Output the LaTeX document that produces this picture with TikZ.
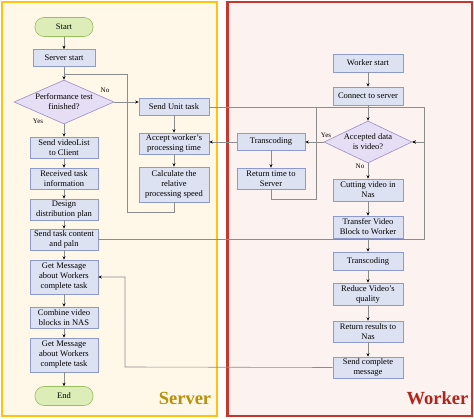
\documentclass[tikz,border=0pt]{standalone}
\usepackage{fontspec}
\setmainfont{Liberation Serif}
\usetikzlibrary{shapes.geometric,arrows.meta}
\definecolor{boxfill}{HTML}{DDE2F2}
\definecolor{boxdraw}{HTML}{8E9ACB}
\definecolor{diafill}{HTML}{E6DEF4}
\definecolor{diadraw}{HTML}{9C8CC8}
\definecolor{termfill}{HTML}{DCEDB8}
\definecolor{termdraw}{HTML}{98BF5E}
\definecolor{srvborder}{HTML}{FFC20E}
\definecolor{srvfill}{HTML}{FFF8E8}
\definecolor{wrkborder}{HTML}{C8372D}
\definecolor{wrkfill}{HTML}{FCF2F0}
\definecolor{srvtext}{HTML}{B8900A}
\definecolor{wrktext}{HTML}{B0241C}
\definecolor{linegray}{HTML}{8C8C8C}
\tikzset{
  box/.style={draw=boxdraw, fill=boxfill, line width=0.6pt, minimum width=68pt, minimum height=21pt,
    align=center, inner sep=1pt, font=\fontsize{8.5}{10}\selectfont},
  dia/.style={diamond, draw=diadraw, fill=diafill, line width=0.6pt, inner sep=0pt, aspect=2.3,
    align=center, font=\fontsize{8.5}{10}\selectfont},
  term/.style={draw=termdraw, fill=termfill, line width=0.6pt, rounded corners=9pt, minimum width=58pt,
    minimum height=19pt, font=\fontsize{8.5}{10}\selectfont},
  conn/.style={draw=linegray, line width=0.6pt},
  arr/.style={conn, -{Stealth[length=3.5pt,width=3pt,color=black]}},
  lbl/.style={font=\fontsize{7}{8}\selectfont, inner sep=0pt},
  panel/.style={line width=2.2pt},
  title/.style={font=\fontsize{18.5}{22}\selectfont\bfseries, inner sep=0pt}
}
\begin{document}
\begin{tikzpicture}[x=1pt,y=-1pt]
\useasboundingbox (0,0) rectangle (474,419);
% panels
\draw[panel, draw=srvborder, fill=srvfill] (2,2) rectangle (217,416);
\draw[panel, draw=wrkborder, fill=wrkfill] (227.5,2) rectangle (472,416);
\node[title, text=srvtext] (srvlbl) at (185,398) {Server};
\node[title, text=wrktext] (wrklbl) at (437.5,398) {Worker};

% server column
\node[term] (start) at (64,27) {Start};
\node[box, minimum width=62pt, minimum height=17pt] (sstart) at (64,58) {Server start};
\node[dia, minimum width=100pt, minimum height=44pt] (perf) at (64,102) {Performance test\\finished?};
\node[box] (sendvl) at (64,147.5) {Send videoList\\to Client};
\node[box] (recv) at (64,178.5) {Received task\\information};
\node[box] (design) at (64,209.5) {Design\\distribution plan};
\node[box] (sendtask) at (64,239.5) {Send task content\\and paln};
\node[box, minimum height=34pt] (getmsg1) at (64,277) {Get Message\\about Workers\\complete task};
\node[box] (combine) at (64,317.5) {Combine video\\blocks in NAS};
\node[box, minimum height=34pt] (getmsg2) at (64,355) {Get Message\\about Workers\\complete task};
\node[term] (end) at (64,396) {End};

% middle column
\node[box, minimum width=70pt, minimum height=17pt] (sendunit) at (174,106.5) {Send Unit task};
\node[box, minimum width=70pt] (accept) at (174,143.5) {Accept worker's\\processing time};
\node[box, minimum width=70pt, minimum height=35pt] (calc) at (174,184.5) {Calculate the\\relative\\processing speed};

% worker column
\node[box, minimum width=70pt, minimum height=18pt] (wstart) at (368,63) {Worker start};
\node[box, minimum width=70pt, minimum height=18pt] (connect) at (368,96) {Connect to server};
\node[dia, minimum width=88pt, minimum height=42pt] (acc) at (368,142) {Accepted data\\is video?};
\node[box, minimum width=70pt, minimum height=22pt] (cut) at (368,190) {Cutting video in\\Nas};
\node[box, minimum width=70pt, minimum height=22pt] (transfer) at (368,227) {Transfer Video\\Block to Worker};
\node[box, minimum width=70pt, minimum height=18pt] (wtrans) at (368,261) {Transcoding};
\node[box, minimum width=70pt, minimum height=22pt] (reduce) at (368,294) {Reduce Video's\\quality};
\node[box, minimum width=70pt, minimum height=21pt] (retres) at (368,331.5) {Return results to\\Nas};
\node[box, minimum width=70pt, minimum height=21pt] (sendcomp) at (368,367.5) {Send complete\\message};
\node[box, minimum width=68pt, minimum height=17pt] (trans) at (271,141.5) {Transcoding};
\node[box, minimum width=68pt, minimum height=21pt] (rettime) at (271,178.5) {Return time to\\Server};

% helper coordinates
\coordinate (lj) at (127,74);
\coordinate (lb) at (127,212);
\coordinate (rt) at (424,107);
\coordinate (rm) at (424,142);
\coordinate (mt) at (316,107);
\coordinate (mb) at (316,199);
\coordinate (bl) at (125,367);

% server arrows
\draw[arr] (start) -- (sstart);
\draw[arr] (sstart) -- (perf.north);
\draw[arr] (perf.east) -- (perf.east -| sendunit.west);
\draw[arr] (perf.south) -- (sendvl);
\draw[arr] (sendvl) -- (recv);
\draw[arr] (recv) -- (design);
\draw[arr] (design) -- (sendtask);
\draw[arr] (sendtask) -- (getmsg1);
\draw[arr] (getmsg1) -- (combine);
\draw[arr] (combine) -- (getmsg2);
\draw[arr] (getmsg2) -- (end);
\node[lbl] (nolbl) at (105,90) {No};
\node[lbl] (yeslbl) at (38,121) {Yes};

% middle arrows and loop
\draw[arr] (sendunit) -- (accept);
\draw[arr] (accept) -- (calc);
\draw[conn] (calc.south) -- (calc.south |- lb) -- (lb) -- (lj) -- (lj -| sstart);

% to worker
\draw[arr] (sendunit.east |- rt) -- (rt) -- (rm) -- (acc.east);
\draw[arr] (sendtask.east) -- (sendtask.east -| rt) -- (rm) -- (acc.east);
\draw[conn] (rettime.south) -- (rettime.south |- mb) -- (mb) -- (mt);

% worker arrows
\draw[arr] (wstart) -- (connect);
\draw[arr] (connect) -- (acc.north);
\draw[arr] (acc.west) -- (trans.east |- acc.west);
\draw[arr] (trans.west |- acc.west) -- (accept.east |- acc.west);
\draw[arr] (trans) -- (rettime);
\draw[arr] (acc.south) -- (cut);
\draw[arr] (cut) -- (transfer);
\draw[arr] (transfer) -- (wtrans);
\draw[arr] (wtrans) -- (reduce);
\draw[arr] (reduce) -- (retres);
\draw[arr] (retres) -- (sendcomp);
\draw[arr] (sendcomp.west) -- (bl) -- (bl |- getmsg1) -- (getmsg1.east);
\node[lbl] (wyes) at (326,135) {Yes};
\node[lbl] (wno) at (360,166) {No};
\end{tikzpicture}
\end{document}
